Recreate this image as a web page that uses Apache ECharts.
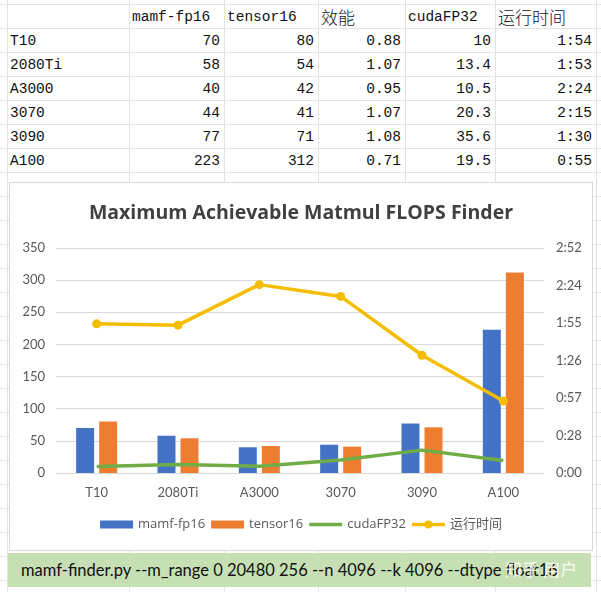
<!DOCTYPE html>
<html>
<head>
<meta charset="utf-8">
<script src="https://cdn.jsdelivr.net/npm/echarts@6/dist/echarts.min.js"></script>
<style>
  html, body { margin: 0; padding: 0; background: #fff; }
  #sheet { position: relative; width: 601px; height: 592px; overflow: hidden; }
  .hl { position: absolute; left: 0; width: 601px; height: 1px; background: #e3e3e3; }
  .vl { position: absolute; top: 0; width: 1px; height: 592px; background: #e3e3e3; }
  .cell { position: absolute; height: 24px; line-height: 24px; font-family: "Liberation Mono", monospace;
          font-size: 14.5px; color: #111; white-space: nowrap; }
  .cjk { font-family: "Noto Sans CJK SC"; font-size: 17px; font-weight: 300; }
  #chart { position: absolute; left: 9px; top: 182px; width: 584px; height: 369px;
           background: #fff; border: 1px solid #d9d9d9; box-sizing: border-box; }
  #banner { position: absolute; left: 8px; top: 553px; width: 583px; height: 34px; background: #c6e0b4;
            font-family: Lato, "Noto Sans CJK SC"; font-size: 16.5px; line-height: 34px; color: #111; }
  #banner span { position: absolute; white-space: nowrap; }
</style>
</head>
<body>
<div id="sheet">
  <div id="chart"></div>
  <div id="banner"><span style="left:13px">mamf-finder.py --m_range 0 20480 256 --n 4096 --k 4096 --dtype float16</span><span style="left:497px;font-size:17px;color:rgba(255,255,255,0.9)">知乎 用户</span></div>
</div>
<script>
// 表格数据
var headers = ["", "mamf-fp16", "tensor16", "效能", "cudaFP32", "运行时间"];
var gpus = ["T10", "2080Ti", "A3000", "3070", "3090", "A100"];
var mamf = [70, 58, 40, 44, 77, 223];
var tensor = [80, 54, 42, 41, 71, 312];
var effic = ["0.88", "1.07", "0.95", "1.07", "1.08", "0.71"];
var cudaFP32 = [10, 13.4, 10.5, 20.3, 35.6, 19.5];
var runTime = ["1:54", "1:53", "2:24", "2:15", "1:30", "0:55"];
var timeTicks = ["0:00", "0:28", "0:57", "1:26", "1:55", "2:24", "2:52"];

var colX = [7, 129, 224, 318, 405, 495, 596];
var rowTop = 4, rowH = 24;

var sheet = document.getElementById("sheet");
// 网格线
for (var y = rowTop; y < 592; y += rowH) {
  var d = document.createElement("div");
  d.className = "hl"; d.style.top = y + "px";
  sheet.insertBefore(d, sheet.firstChild);
}
colX.forEach(function (x) {
  var d = document.createElement("div");
  d.className = "vl"; d.style.left = x + "px";
  sheet.insertBefore(d, sheet.firstChild);
});

function addCell(text, col, row, right, cjk) {
  var c = document.createElement("div");
  c.className = "cell" + (cjk ? " cjk" : "");
  c.textContent = text;
  c.style.top = (rowTop + row * rowH + 1) + "px";
  if (right) {
    c.style.right = (601 - colX[col + 1] + 4) + "px";
  } else {
    c.style.left = (colX[col] + 3) + "px";
  }
  sheet.appendChild(c);
}

headers.forEach(function (h, i) {
  if (h) addCell(h, i, 0, false, /[^\x00-\x7f]/.test(h));
});
gpus.forEach(function (g, r) {
  addCell(g, 0, r + 1, false);
  addCell(String(mamf[r]), 1, r + 1, true);
  addCell(String(tensor[r]), 2, r + 1, true);
  addCell(effic[r], 3, r + 1, true);
  addCell(String(cudaFP32[r]), 4, r + 1, true);
  addCell(runTime[r], 5, r + 1, true);
});

// 运行时间 -> 分钟
var timeVals = runTime.map(function (t) {
  var p = t.split(":");
  return Number(p[0]) * 60 + Number(p[1]);
});
var timeMax = 172;
var timeStep = timeMax / 6;

// 图例图标：粗线 / 粗线+圆点
var iconLine = "path://M0,0L0.05,0L0,0.05Z M0,2.3H33V5.7H0Z M0,8L0.05,8L0,7.95Z";
var iconLineDot = "path://M0,0L0.05,0L0,0.05Z M0,2.3H33V5.7H0Z M12.5,4A4,4 0 1,1 20.5,4A4,4 0 1,1 12.5,4Z M0,8L0.05,8L0,7.95Z";

var myChart = echarts.init(document.getElementById("chart"));
var option = {
  animation: false,
  textStyle: { fontFamily: 'Lato, "Noto Sans CJK SC"' },
  title: {
    text: "Maximum Achievable Matmul FLOPS Finder",
    left: "center",
    top: 15,
    textStyle: { fontSize: 19.5, fontWeight: "bold", color: "#404040", fontFamily: '"Open Sans", Lato' }
  },
  grid: { left: 46, right: 48, top: 65, bottom: 77 },
  legend: {
    bottom: 14,
    left: "center",
    itemWidth: 33,
    itemHeight: 8,
    itemGap: 6,
    textStyle: { fontSize: 13, color: "#595959", fontFamily: '"Open Sans", "Noto Sans CJK SC"' },
    data: [
      { name: "mamf-fp16", icon: "rect" },
      { name: "tensor16", icon: "rect" },
      { name: "cudaFP32", icon: iconLine },
      { name: "运行时间", icon: iconLineDot }
    ]
  },
  xAxis: {
    type: "category",
    data: gpus,
    axisTick: { show: false },
    axisLine: { lineStyle: { color: "#d9d9d9" } },
    axisLabel: { color: "#595959", fontSize: 13, margin: 13 }
  },
  yAxis: [
    {
      type: "value",
      min: 0, max: 350, interval: 50,
      axisLine: { show: false },
      axisTick: { show: false },
      splitLine: { lineStyle: { color: "#d9d9d9" } },
      axisLabel: { color: "#595959", fontSize: 13, margin: 11 }
    },
    {
      type: "value",
      min: 0, max: timeMax, interval: timeStep,
      axisLine: { show: false },
      axisTick: { show: false },
      splitLine: { show: false },
      axisLabel: {
        color: "#595959", fontSize: 13, margin: 12,
        formatter: function (v) { return timeTicks[Math.round(v / timeStep)]; }
      }
    }
  ],
  series: [
    { name: "mamf-fp16", type: "bar", data: mamf, barWidth: 18, barGap: "28%", itemStyle: { color: "#4472c4" } },
    { name: "tensor16", type: "bar", data: tensor, barWidth: 18, itemStyle: { color: "#ed7d31" } },
    {
      name: "cudaFP32", type: "line", data: cudaFP32, symbol: "none",
      lineStyle: { width: 3.5, color: "#70ad47" }, itemStyle: { color: "#70ad47" }
    },
    {
      name: "运行时间", type: "line", yAxisIndex: 1, data: timeVals,
      symbol: "circle", symbolSize: 9,
      lineStyle: { width: 3.5, color: "#f5bd00" }, itemStyle: { color: "#f5bd00" }
    }
  ]
};
option && myChart.setOption(option);
</script>
</body>
</html>
